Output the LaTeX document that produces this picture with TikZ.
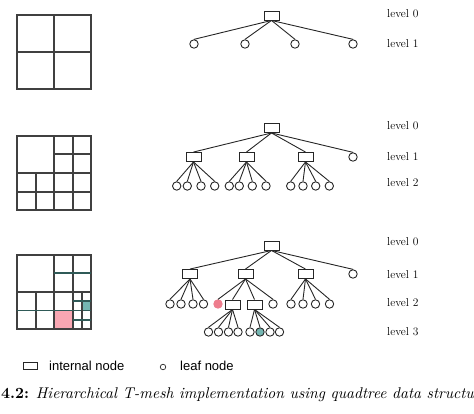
\documentclass[tikz,border=0pt]{standalone}
\usepackage{fontspec}
\newfontfamily\legendfont{Liberation Sans}
\definecolor{meshgray}{HTML}{404040}
\definecolor{meshteal}{HTML}{2F5A57}
\definecolor{pinkfill}{HTML}{F9A7B3}
\definecolor{pinknode}{HTML}{EE7D8D}
\definecolor{tealfill}{HTML}{74B6B2}
\tikzset{
  meshline/.style={draw=meshgray, line width=1.3pt},
  meshthin/.style={draw=meshteal, line width=1.1pt},
  inner/.style={draw=black!85, line width=0.9pt, rectangle, minimum width=15pt, minimum height=9pt, inner sep=0pt},
  leaf/.style={draw=black!85, line width=0.9pt, circle, minimum size=8.4pt, inner sep=0pt, fill=white},
  edge/.style={draw=black!85, line width=0.9pt},
  lvl/.style={anchor=west, inner sep=0pt, font=\fontsize{11.5}{13}\selectfont},
  legtext/.style={anchor=west, inner sep=0pt, font=\legendfont\fontsize{13}{15}\selectfont}
}
\begin{document}
\begin{tikzpicture}[x=1pt,y=-1pt]
\useasboundingbox (0,0) rectangle (474,414);

% ---------- mesh 1 ----------
\draw[meshline] (17,15) rectangle (91,89);
\draw[meshline] (54,15) -- (54,89);
\draw[meshline] (17,52) -- (91,52);

% ---------- tree 1 ----------
\node[inner] (r1) at (271.5,15.5) {};
\node[leaf] (a1) at (194,44) {};
\node[leaf] (a2) at (245,44) {};
\node[leaf] (a3) at (295,44) {};
\node[leaf] (a4) at (353,44) {};
\foreach \c in {a1,a2,a3,a4} \draw[edge] (r1.south) -- (\c.north);
\node[lvl] (l10) at (387,14) {level 0};
\node[lvl] (l11) at (387,44) {level 1};

% ---------- mesh 2 ----------
\draw[meshline] (17,136) rectangle (91,210);
\draw[meshline] (54,136) -- (54,210);
\draw[meshline] (17,173) -- (91,173);
\draw[meshline] (73,136) -- (73,210);
\draw[meshline] (54,154) -- (91,154);
\draw[meshline] (36,173) -- (36,210);
\draw[meshline] (17,192) -- (91,192);

% ---------- tree 2 ----------
\node[inner] (r2) at (271.5,128) {};
\node[inner] (b1) at (193.5,157) {};
\node[inner] (b2) at (246.5,157) {};
\node[inner] (b3) at (305.5,157) {};
\node[leaf] (b4) at (353,157) {};
\foreach \c in {b1,b2,b3,b4} \draw[edge] (r2.south) -- (\c.north);
\node[leaf] (c1) at (176.7,186) {};
\node[leaf] (c2) at (187.3,186) {};
\node[leaf] (c3) at (201,186) {};
\node[leaf] (c4) at (214.7,186) {};
\node[leaf] (c5) at (229.3,186) {};
\node[leaf] (c6) at (239.3,186) {};
\node[leaf] (c7) at (252.3,186) {};
\node[leaf] (c8) at (266,186) {};
\node[leaf] (c9) at (290.7,186) {};
\node[leaf] (c10) at (303,186) {};
\node[leaf] (c11) at (315.7,186) {};
\node[leaf] (c12) at (329.3,186) {};
\foreach \c in {c1,c2,c3,c4} \draw[edge] (b1.south) -- (\c.north);
\foreach \c in {c5,c6,c7,c8} \draw[edge] (b2.south) -- (\c.north);
\foreach \c in {c9,c10,c11,c12} \draw[edge] (b3.south) -- (\c.north);
\node[lvl] (l20) at (387,126) {level 0};
\node[lvl] (l21) at (387,157) {level 1};
\node[lvl] (l22) at (387,183) {level 2};

% ---------- mesh 3 ----------
\fill[pinkfill] (54.5,310.5) rectangle (72.5,328.5);
\fill[tealfill] (82,301) rectangle (91,310);
\draw[meshline] (17,255) rectangle (91,329);
\draw[meshline] (54,255) -- (54,329);
\draw[meshline] (17,292) -- (91,292);
\draw[meshline] (73,255) -- (73,329);
\draw[meshthin] (54,273) -- (91,273);
\draw[meshline] (36,292) -- (36,329);
\draw[meshthin] (17,310.5) -- (91,310.5);
\draw[meshline] (82,292) -- (82,329);
\draw[meshthin] (73,301) -- (91,301);
\draw[meshthin] (73,320) -- (91,320);

% ---------- tree 3 ----------
\node[inner] (r3) at (271.5,245.5) {};
\node[inner] (d1) at (190,274) {};
\node[inner] (d2) at (245.5,274) {};
\node[inner] (d3) at (305.5,274) {};
\node[leaf] (d4) at (353,274) {};
\foreach \c in {d1,d2,d3,d4} \draw[edge] (r3.south) -- (\c.north);
\node[leaf] (e1) at (170,304) {};
\node[leaf] (e2) at (181,304) {};
\node[leaf] (e3) at (193,304) {};
\node[leaf] (e4) at (203.5,304) {};
\node[leaf, fill=pinknode, draw=pinknode] (e5) at (218,304) {};
\node[inner] (e6) at (232.5,304.5) {};
\node[inner] (e7) at (254.5,304.5) {};
\node[leaf] (e8) at (273,304) {};
\node[leaf] (e9) at (291,304) {};
\node[leaf] (e10) at (303,304) {};
\node[leaf] (e11) at (315.5,304) {};
\node[leaf] (e12) at (329.5,304) {};
\foreach \c in {e1,e2,e3,e4} \draw[edge] (d1.south) -- (\c.north);
\foreach \c in {e5,e6,e7,e8} \draw[edge] (d2.south) -- (\c.north);
\foreach \c in {e9,e10,e11,e12} \draw[edge] (d3.south) -- (\c.north);
\node[leaf] (f1) at (208.5,332) {};
\node[leaf] (f2) at (218.5,332) {};
\node[leaf] (f3) at (228.5,332) {};
\node[leaf] (f4) at (238,332) {};
\node[leaf] (f5) at (250,332) {};
\node[leaf, fill=tealfill] (f6) at (260,332) {};
\node[leaf] (f7) at (270,332) {};
\node[leaf] (f8) at (279.5,332) {};
\foreach \c in {f1,f2,f3,f4} \draw[edge] (e6.south) -- (\c.north);
\foreach \c in {f5,f6,f7,f8} \draw[edge] (e7.south) -- (\c.north);
\node[lvl] (l30) at (387,242) {level 0};
\node[lvl] (l31) at (387,275) {level 1};
\node[lvl] (l32) at (387,303) {level 2};
\node[lvl] (l33) at (387,332) {level 3};

% ---------- legend ----------
\node[inner, minimum width=14pt, minimum height=7pt] (kin) at (30.5,366) {};
\node[legtext] (tin) at (49,366) {internal node};
\node[leaf, minimum size=5.5pt, line width=0.7pt] (klf) at (163,367) {};
\node[legtext] (tlf) at (180,366) {leaf node};

% ---------- caption ----------
\node[anchor=base west, inner sep=0pt] (cap) at (1,398)
  {\resizebox{473pt}{!}{\textbf{4.2:} \textit{Hierarchical T-mesh implementation using quadtree data structu}}};
\end{tikzpicture}
\end{document}
